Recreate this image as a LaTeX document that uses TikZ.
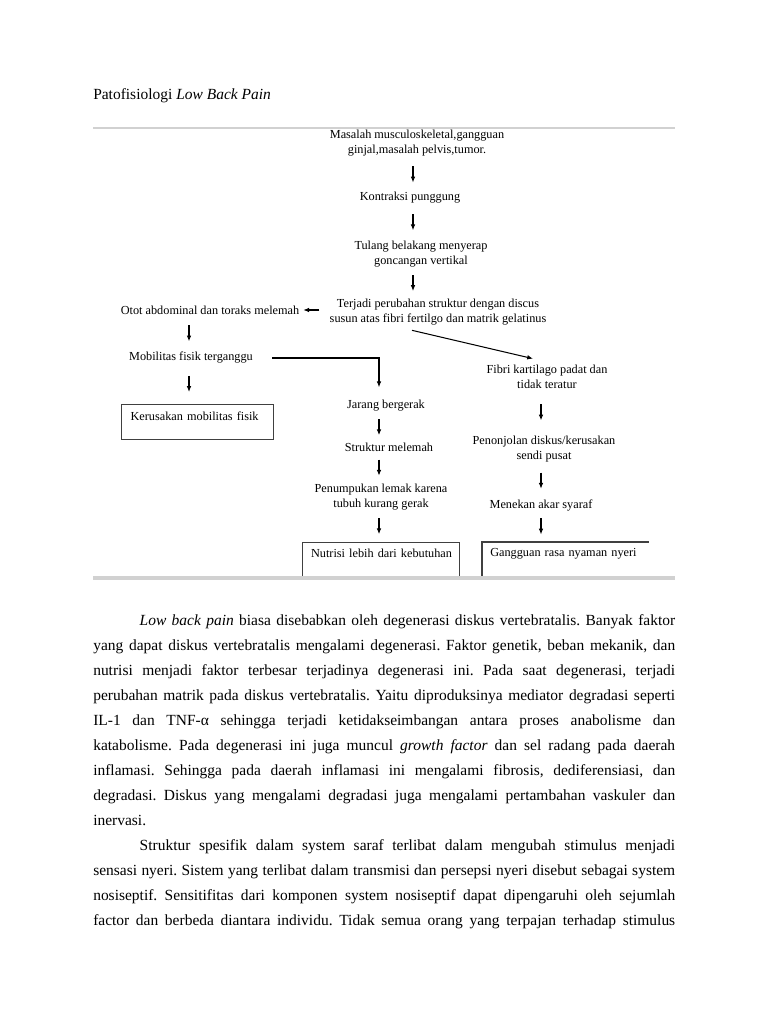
\documentclass[tikz,border=0pt]{standalone}
\usepackage{fontspec}
\setmainfont{Liberation Serif}
\usepackage{tikz}
\usetikzlibrary{arrows.meta}
\usetikzlibrary{calc}

\tikzset{
  langkah/.style={inner sep=0pt,align=center,font=\fontsize{9.5}{11.6}\selectfont},
  kotak/.style={langkah,anchor=north west,align=left,inner ysep=4.9pt,text height=6.5pt},
  panah/.style={-{Latex[length=4.5pt,width=3.6pt]},line width=0.8pt},
  turun/.style={panah,to path={($(\tikztostart)!.5!(\tikztotarget)+(0,8)$) -- ($(\tikztostart)!.5!(\tikztotarget)+(0,-8)$)}},
  garis/.style={draw=black!18,line width=2pt},
  bingkai/.style={draw=black!75,line width=0.9pt}
}

\begin{document}
\begin{tikzpicture}[x=0.775pt,y=0.775pt]
  \useasboundingbox (0,0) rectangle (768,-1024);

  \node[anchor=base west,inner sep=0pt,font=\fontsize{12}{14}\selectfont] (judul) at (93,-99.5) {Patofisiologi \textit{Low Back Pain}};

  \coordinate (k0) at (189,0);
  \coordinate (k1) at (413,0);
  \coordinate (k2) at (379,0);
  \coordinate (k3) at (541,0);

  \begin{scope}
  \clip (93,-120) rectangle (675,-577);
  % kolom tengah
  \node[langkah] (masalah) at (417,-143.5) {Masalah musculoskeletal,gangguan\\ginjal,masalah pelvis,tumor.};
  \node[langkah] (kontraksi) at (410,-198) {Kontraksi punggung};
  \node[langkah] (tulang) at (421,-254) {Tulang belakang menyerap\\goncangan vertikal};
  \node[langkah] (terjadi) at (438,-312) {Terjadi perubahan struktur dengan discus\\susun atas fibri fertilgo dan matrik gelatinus};

  % kiri
  \node[langkah] (otot) at (210,-310) {Otot abdominal dan toraks melemah};
  \node[langkah] (mobilitas) at (191,-358) {Mobilitas fisik terganggu};
  \node[kotak,bingkai,inner xsep=7pt,text width=103.9pt,inner ysep=5.7pt,text depth=9.2pt] (kerusakan) at (121,-404) {\mbox{Kerusakan mobilitas fisik}};

  % tengah bawah
  \node[langkah] (jarang) at (386,-406) {Jarang bergerak};
  \node[langkah] (struktur) at (389,-447) {Struktur melemah};
  \node[langkah] (penumpukan) at (381,-497) {Penumpukan lemak karena\\tubuh kurang gerak};
  \node[kotak,bingkai,inner xsep=6.6pt,text width=108.5pt,text depth=40pt] (nutrisi) at (302,-542) {\mbox{Nutrisi lebih dari kebutuhan}};

  % kanan
  \node[langkah] (fibri) at (547,-377) {Fibri kartilago padat dan\\tidak teratur};
  \node[langkah] (penonjolan) at (544,-449) {Penonjolan diskus/kerusakan\\sendi pusat};
  \node[langkah] (menekan) at (541,-505) {Menekan akar syaraf};
  \node[kotak,inner xsep=6.2pt,text width=117pt,text depth=40pt] (gangguan) at (482,-542) {\mbox{Gangguan rasa nyaman nyeri}};
  \draw[bingkai] (gangguan.south west) |- (gangguan.north east);

  \draw[turun] (masalah.south -| k1) to (kontraksi.north -| k1);
  \draw[turun] (kontraksi.south -| k1) to (tulang.north -| k1);
  \draw[turun] (tulang.south -| k1) to (terjadi.north -| k1);
  \draw[panah,shorten <=7.75pt,shorten >=3pt] (terjadi.west |- otot.east) -- (otot.east);
  \draw[turun] (otot.south -| k0) to (mobilitas.north -| k0);
  \draw[turun] (mobilitas.south -| k0) to (kerusakan.north -| k0);
  \draw[panah,shorten <=14.7pt,shorten >=10pt] (mobilitas.east) -| (jarang.north -| k2);
  \draw[turun] (jarang.south -| k2) to (struktur.north -| k2);
  \draw[turun] (struktur.south -| k2) to (penumpukan.north -| k2);
  \draw[turun] (penumpukan.south -| k2) to (nutrisi.north -| k2);
  \draw[panah] ([shift={(-26,-5)}]terjadi.south) -- ([shift={(-14,6.3)}]fibri.north);
  \draw[turun] (fibri.south -| k3) to (penonjolan.north -| k3);
  \draw[turun] (penonjolan.south -| k3) to (menekan.north -| k3);
  \draw[turun] (menekan.south -| k3) to (gangguan.north -| k3);
  \end{scope}

  \draw[garis] (93,-128) -- (675,-128);
  \draw[garis,line width=2.5pt] (93,-578) -- (675,-578);

  % teks
  \node[anchor=base west,inner sep=0pt,text width=451pt,align=justify,font=\fontsize{12}{19.38}\selectfont] (isi) at (93,-625.5) {\frenchspacing\hyphenpenalty=10000
\hspace*{36pt}\textit{Low back pain} biasa disebabkan oleh degenerasi diskus vertebratalis. Banyak faktor\linebreak
yang dapat diskus vertebratalis mengalami degenerasi. Faktor genetik, beban mekanik, dan\linebreak
nutrisi menjadi faktor terbesar terjadinya degenerasi ini. Pada saat degenerasi, terjadi\linebreak
perubahan matrik pada diskus vertebratalis. Yaitu diproduksinya mediator degradasi seperti\linebreak
IL-1 dan TNF-α sehingga terjadi ketidakseimbangan antara proses anabolisme dan\linebreak
katabolisme. Pada degenerasi ini juga muncul \textit{growth factor} dan sel radang pada daerah\linebreak
inflamasi. Sehingga pada daerah inflamasi ini mengalami fibrosis, dediferensiasi, dan\linebreak
degradasi. Diskus yang mengalami degradasi juga mengalami pertambahan vaskuler dan\linebreak
inervasi.\par
\hspace*{36pt}Struktur spesifik dalam system saraf terlibat dalam mengubah stimulus menjadi\linebreak
sensasi nyeri. Sistem yang terlibat dalam transmisi dan persepsi nyeri disebut sebagai system\linebreak
nosiseptif. Sensitifitas dari komponen system nosiseptif dapat dipengaruhi oleh sejumlah\linebreak
factor dan berbeda diantara individu. Tidak semua orang yang terpajan terhadap stimulus{\parfillskip=0pt\par}};
\end{tikzpicture}
\end{document}
